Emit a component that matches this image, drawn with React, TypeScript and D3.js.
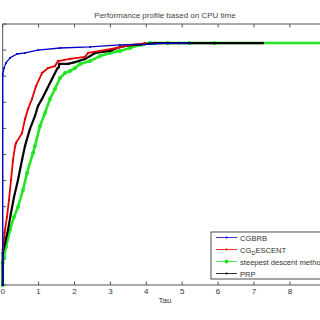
import React from "react";
import * as d3 from "d3";

const title = "Performance profile based on CPU time";
const xLabel = "Tau";
const xTicks = [0, 1, 2, 3, 4, 5, 6, 7, 8, 9];
const xTickLabels = ["0", "1", "2", "3", "4", "5", "6", "7", "8", ""];
const yTicks = [0, 0.1, 0.2, 0.3, 0.4, 0.5, 0.6, 0.7, 0.8, 0.9, 1];

const cgbrbTau = [0, 0, 0.036, 0.092, 0.203, 0.398, 0.621, 0.983, 1.596, 2.432, 3.267, 4.103, 4.6, 5.2];
const cgbrbVal = [0, 0.805, 0.831, 0.851, 0.87, 0.885, 0.889, 0.9, 0.908, 0.912, 0.92, 0.923, 0.927, 0.927];

const cgdTau = [0, 0.064, 0.12, 0.175, 0.231, 0.287, 0.343, 0.37, 0.538, 0.621, 0.705, 0.816, 0.928, 1.095, 1.262, 1.457, 1.54, 1.875, 2.293, 2.376, 2.71, 3.184, 3.546, 3.825, 3.964];
const cgdVal = [0.134, 0.211, 0.261, 0.326, 0.402, 0.479, 0.53, 0.544, 0.582, 0.636, 0.674, 0.713, 0.762, 0.812, 0.831, 0.839, 0.858, 0.866, 0.874, 0.889, 0.897, 0.908, 0.92, 0.923, 0.927];

const sdTau = [0, 0, 0.036, 0.092, 0.203, 0.315, 0.426, 0.565, 0.677, 0.844, 0.9, 1.039, 1.178, 1.318, 1.457, 1.596, 1.735, 1.875, 2.014, 2.154, 2.432, 2.71, 2.989, 3.267, 3.546, 3.825, 4.103, 4.6, 5.2, 5.9, 9];
const sdVal = [0, 0.084, 0.107, 0.146, 0.211, 0.261, 0.299, 0.364, 0.429, 0.506, 0.533, 0.609, 0.659, 0.713, 0.751, 0.793, 0.812, 0.82, 0.831, 0.847, 0.858, 0.877, 0.889, 0.897, 0.908, 0.92, 0.927, 0.927, 0.927, 0.927, 0.927];

const prpTau = [0, 0, 0.064, 0.148, 0.231, 0.315, 0.426, 0.538, 0.621, 0.76, 0.9, 0.983, 1.095, 1.234, 1.373, 1.513, 1.568, 1.568, 1.822, 2.014, 2.293, 2.432, 2.571, 2.989, 3.184, 3.406, 3.685, 3.964, 4.243, 4.9, 5.8, 7.25];
const prpVal = [0, 0.123, 0.161, 0.211, 0.276, 0.337, 0.402, 0.479, 0.533, 0.598, 0.648, 0.686, 0.713, 0.751, 0.789, 0.828, 0.835, 0.847, 0.847, 0.854, 0.866, 0.877, 0.889, 0.897, 0.908, 0.916, 0.92, 0.923, 0.927, 0.927, 0.927, 0.927];

const seriesNames = ["CGBRB", "CG_DESCENT", "steepest descent method", "PRP"];

export default function App() {
  const x = d3.scaleLinear().domain([0, 9]).range([2.7, 325.8]);
  const y = d3.scaleLinear().domain([0, 1]).range([285, 24]);
  const line = d3
    .line<[number, number]>()
    .x((d) => x(d[0]))
    .y((d) => y(d[1]));

  const series = [
    { tau: sdTau, val: sdVal, color: "#22e622", width: 2.6, r: 2, markerEnd: 5.9 },
    { tau: prpTau, val: prpVal, color: "#000000", width: 2.2, r: 1.2, markerEnd: 99 },
    { tau: cgdTau, val: cgdVal, color: "#e60000", width: 1.8, r: 1.2, markerEnd: 99 },
    { tau: cgbrbTau, val: cgbrbVal, color: "#0000c8", width: 1.3, r: 1, markerEnd: 99 },
  ];

  const legendColors = ["#0000c8", "#e60000", "#22e622", "#000000"];
  const axisColor = "#555";
  const textColor = "#333";
  const font = "Liberation Sans, Arial, sans-serif";

  return (
    <svg
      width={320}
      height={320}
      style={{ position: "fixed", left: 0, top: 0, background: "#fff" }}
    >
      <rect x={0} y={0} width={320} height={320} fill="#fff" />
      <text x={165} y={18} fontSize={8} fill="#444" textAnchor="middle" fontFamily={font}>
        {title}
      </text>
      <line x1={x(0)} x2={x(9)} y1={y(0)} y2={y(0)} stroke={axisColor} strokeWidth={1} />
      <line x1={x(0)} x2={x(9)} y1={y(1)} y2={y(1)} stroke={axisColor} strokeWidth={1} />
      <line x1={x(0)} x2={x(0)} y1={y(0)} y2={y(1)} stroke={axisColor} strokeWidth={1} />
      {xTicks.map((t, i) => (
        <g key={"xt" + t}>
          <line x1={x(t)} x2={x(t)} y1={y(0)} y2={y(0) - 3.5} stroke={axisColor} />
          <line x1={x(t)} x2={x(t)} y1={y(1)} y2={y(1) + 3.5} stroke={axisColor} />
          {xTickLabels[i] ? (
            <text x={x(t)} y={294} fontSize={8} fill={textColor} textAnchor="middle" fontFamily={font}>
              {xTickLabels[i]}
            </text>
          ) : null}
        </g>
      ))}
      {yTicks.map((t) => (
        <line key={"yt" + t} x1={x(0)} x2={x(0) + 3.5} y1={y(t)} y2={y(t)} stroke={axisColor} />
      ))}
      <text x={165} y={303} fontSize={8} fill={textColor} textAnchor="middle" fontFamily={font}>
        {xLabel}
      </text>
      {series.map((s, i) => {
        const pts: [number, number][] = s.tau.map((t, k) => [t, s.val[k]]);
        return (
          <g key={"s" + i}>
            <path d={line(pts) || ""} fill="none" stroke={s.color} strokeWidth={s.width} strokeLinejoin="round" />
            {pts
              .filter((p) => p[0] <= s.markerEnd)
              .map((p, k) => (
                <circle key={k} cx={x(p[0])} cy={y(p[1])} r={s.r} fill={s.color} />
              ))}
          </g>
        );
      })}
      <rect x={211} y={232} width={120} height={47} fill="#fff" stroke="#222" strokeWidth={0.8} />
      {seriesNames.map((n, i) => {
        const ly = 237.5 + i * 12;
        return (
          <g key={"lg" + i}>
            <line x1={216} x2={237} y1={ly} y2={ly} stroke={legendColors[i]} strokeWidth={0.8} />
            <circle cx={226.5} cy={ly} r={i === 2 ? 2 : 1} fill={legendColors[i]} />
            <text x={240} y={ly + 3} fontSize={7.6} fill={textColor} fontFamily={font}>
              {i === 1 ? (
                <>
                  CG
                  <tspan fontSize={5.5} dy={2}>D</tspan>
                  <tspan dy={-2}>ESCENT</tspan>
                </>
              ) : (
                n
              )}
            </text>
          </g>
        );
      })}
    </svg>
  );
}
